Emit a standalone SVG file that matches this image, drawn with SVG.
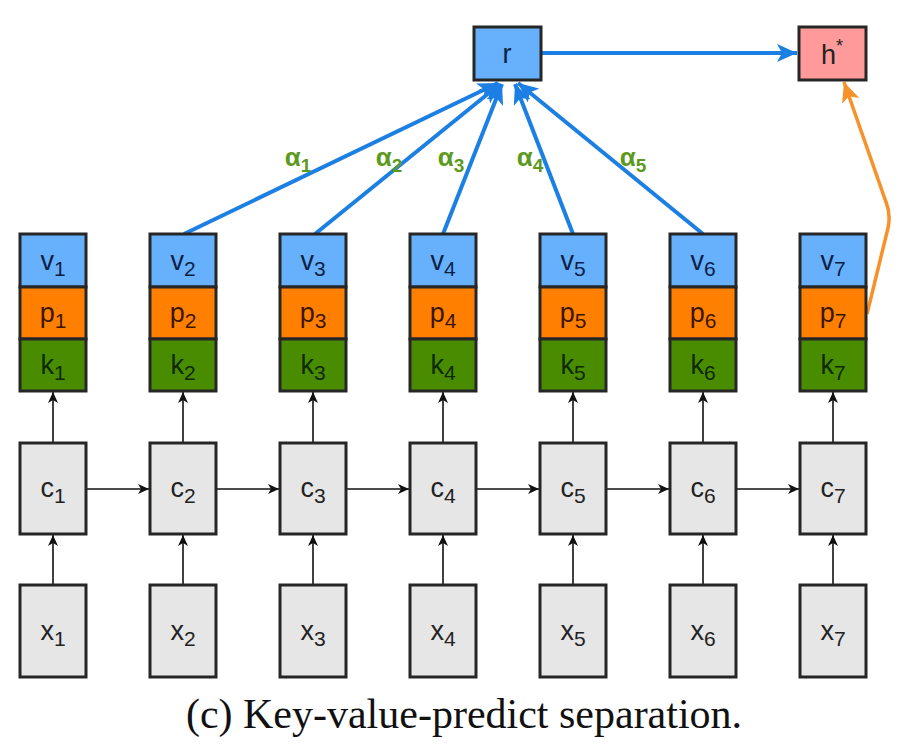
<svg xmlns="http://www.w3.org/2000/svg" width="900" height="752" viewBox="0 0 900 752">
<defs>
<style>
.box{stroke:#262626;stroke-width:3}
.v{fill:#66b0fc}.p{fill:#ff8000}.k{fill:#4a8c00}.g{fill:#e6e6e6}.h{fill:#ff9a9a}
text{font-family:"Liberation Sans",Arial,sans-serif;font-size:27px;text-anchor:middle}
.tv{fill:#0b1f45}.tp{fill:#3d1500}.tk{fill:#0d2a00}.tg{fill:#222}
.s{font-size:21px}
.al{fill:#5c9a1e;font-weight:bold;font-size:26px}
.as{font-size:19px}
.blue{stroke:#1b7fe3;stroke-width:4;fill:none;marker-end:url(#ab)}
.blk{stroke:#111;stroke-width:1.6;fill:none;marker-end:url(#ak)}
.org{stroke:#f7922a;stroke-width:3.5;fill:none;marker-end:url(#ao)}
.cap{font-family:"Liberation Serif","Times New Roman",serif;font-size:42px;fill:#111}
</style>
<marker id="ab" markerUnits="userSpaceOnUse" markerWidth="22" markerHeight="18" refX="20" refY="9" orient="auto"><path d="M0,0 L20,9 L0,18 L5,9 z" fill="#1b7fe3"/></marker>
<marker id="ao" markerUnits="userSpaceOnUse" markerWidth="22" markerHeight="18" refX="20" refY="9" orient="auto"><path d="M0,0 L20,9 L0,18 L5,9 z" fill="#f7922a"/></marker>
<marker id="ak" markerUnits="userSpaceOnUse" markerWidth="12" markerHeight="10" refX="11" refY="5" orient="auto"><path d="M0,0 L11,5 L0,10 L3,5 z" fill="#111"/></marker>
</defs>
<rect width="900" height="752" fill="#fff"/>

<g id="connectors">
<path class="blk" d="M53,585 V535"/><path class="blk" d="M183,585 V535"/><path class="blk" d="M313,585 V535"/><path class="blk" d="M443,585 V535"/><path class="blk" d="M573,585 V535"/><path class="blk" d="M703,585 V535"/><path class="blk" d="M833,585 V535"/>
<path class="blk" d="M53,443 V392"/><path class="blk" d="M183,443 V392"/><path class="blk" d="M313,443 V392"/><path class="blk" d="M443,443 V392"/><path class="blk" d="M573,443 V392"/><path class="blk" d="M703,443 V392"/><path class="blk" d="M833,443 V392"/>
<path class="blk" d="M86,489 H149"/><path class="blk" d="M216,489 H279"/><path class="blk" d="M346,489 H409"/><path class="blk" d="M476,489 H539"/><path class="blk" d="M606,489 H669"/><path class="blk" d="M736,489 H799"/>
<path class="blue" d="M184,234 L498,83"/>
<path class="blue" d="M315,234 L500,84"/>
<path class="blue" d="M443,234 L502,84"/>
<path class="blue" d="M573,234 L515,84"/>
<path class="blue" d="M703,234 L518,83"/>
<path class="blue" d="M541,53 L797,53"/>
<path class="org" d="M867,314 L888,228 Q891,214 886,202 L844,82"/>
<text class="al" x="298" y="166">α<tspan class="as" dy="6">1</tspan></text>
<text class="al" x="389" y="166">α<tspan class="as" dy="6">2</tspan></text>
<text class="al" x="451" y="166">α<tspan class="as" dy="6">3</tspan></text>
<text class="al" x="530" y="166">α<tspan class="as" dy="6">4</tspan></text>
<text class="al" x="633" y="166">α<tspan class="as" dy="6">5</tspan></text>
</g>

<g id="r"><rect class="box v" x="474" y="27" width="67" height="53"/><text class="tv" x="507" y="63">r</text></g>
<g id="hstar"><rect class="box h" x="799" y="27" width="67" height="53"/><text class="tg" x="832" y="64">h<tspan font-size="18" dy="-12">*</tspan></text></g>

<g id="col1"><rect class="box v" x="20" y="234" width="66" height="53"/><rect class="box p" x="20" y="287" width="66" height="52"/><rect class="box k" x="20" y="339" width="66" height="52"/>
<text class="tv" x="53" y="270">v<tspan class="s" dy="6">1</tspan></text><text class="tp" x="53" y="322">p<tspan class="s" dy="6">1</tspan></text><text class="tk" x="53" y="374">k<tspan class="s" dy="6">1</tspan></text></g>
<g id="col2"><rect class="box v" x="150" y="234" width="66" height="53"/><rect class="box p" x="150" y="287" width="66" height="52"/><rect class="box k" x="150" y="339" width="66" height="52"/>
<text class="tv" x="183" y="270">v<tspan class="s" dy="6">2</tspan></text><text class="tp" x="183" y="322">p<tspan class="s" dy="6">2</tspan></text><text class="tk" x="183" y="374">k<tspan class="s" dy="6">2</tspan></text></g>
<g id="col3"><rect class="box v" x="280" y="234" width="66" height="53"/><rect class="box p" x="280" y="287" width="66" height="52"/><rect class="box k" x="280" y="339" width="66" height="52"/>
<text class="tv" x="313" y="270">v<tspan class="s" dy="6">3</tspan></text><text class="tp" x="313" y="322">p<tspan class="s" dy="6">3</tspan></text><text class="tk" x="313" y="374">k<tspan class="s" dy="6">3</tspan></text></g>
<g id="col4"><rect class="box v" x="410" y="234" width="66" height="53"/><rect class="box p" x="410" y="287" width="66" height="52"/><rect class="box k" x="410" y="339" width="66" height="52"/>
<text class="tv" x="443" y="270">v<tspan class="s" dy="6">4</tspan></text><text class="tp" x="443" y="322">p<tspan class="s" dy="6">4</tspan></text><text class="tk" x="443" y="374">k<tspan class="s" dy="6">4</tspan></text></g>
<g id="col5"><rect class="box v" x="540" y="234" width="66" height="53"/><rect class="box p" x="540" y="287" width="66" height="52"/><rect class="box k" x="540" y="339" width="66" height="52"/>
<text class="tv" x="573" y="270">v<tspan class="s" dy="6">5</tspan></text><text class="tp" x="573" y="322">p<tspan class="s" dy="6">5</tspan></text><text class="tk" x="573" y="374">k<tspan class="s" dy="6">5</tspan></text></g>
<g id="col6"><rect class="box v" x="670" y="234" width="66" height="53"/><rect class="box p" x="670" y="287" width="66" height="52"/><rect class="box k" x="670" y="339" width="66" height="52"/>
<text class="tv" x="703" y="270">v<tspan class="s" dy="6">6</tspan></text><text class="tp" x="703" y="322">p<tspan class="s" dy="6">6</tspan></text><text class="tk" x="703" y="374">k<tspan class="s" dy="6">6</tspan></text></g>
<g id="col7"><rect class="box v" x="800" y="234" width="66" height="53"/><rect class="box p" x="800" y="287" width="66" height="52"/><rect class="box k" x="800" y="339" width="66" height="52"/>
<text class="tv" x="833" y="270">v<tspan class="s" dy="6">7</tspan></text><text class="tp" x="833" y="322">p<tspan class="s" dy="6">7</tspan></text><text class="tk" x="833" y="374">k<tspan class="s" dy="6">7</tspan></text></g>

<g id="c1"><rect class="box g" x="20" y="443" width="66" height="91"/><text class="tg" x="53" y="497">c<tspan class="s" dy="6">1</tspan></text></g>
<g id="c2"><rect class="box g" x="150" y="443" width="66" height="91"/><text class="tg" x="183" y="497">c<tspan class="s" dy="6">2</tspan></text></g>
<g id="c3"><rect class="box g" x="280" y="443" width="66" height="91"/><text class="tg" x="313" y="497">c<tspan class="s" dy="6">3</tspan></text></g>
<g id="c4"><rect class="box g" x="410" y="443" width="66" height="91"/><text class="tg" x="443" y="497">c<tspan class="s" dy="6">4</tspan></text></g>
<g id="c5"><rect class="box g" x="540" y="443" width="66" height="91"/><text class="tg" x="573" y="497">c<tspan class="s" dy="6">5</tspan></text></g>
<g id="c6"><rect class="box g" x="670" y="443" width="66" height="91"/><text class="tg" x="703" y="497">c<tspan class="s" dy="6">6</tspan></text></g>
<g id="c7"><rect class="box g" x="800" y="443" width="66" height="91"/><text class="tg" x="833" y="497">c<tspan class="s" dy="6">7</tspan></text></g>

<g id="x1"><rect class="box g" x="20" y="585" width="66" height="92"/><text class="tg" x="53" y="640">x<tspan class="s" dy="6">1</tspan></text></g>
<g id="x2"><rect class="box g" x="150" y="585" width="66" height="92"/><text class="tg" x="183" y="640">x<tspan class="s" dy="6">2</tspan></text></g>
<g id="x3"><rect class="box g" x="280" y="585" width="66" height="92"/><text class="tg" x="313" y="640">x<tspan class="s" dy="6">3</tspan></text></g>
<g id="x4"><rect class="box g" x="410" y="585" width="66" height="92"/><text class="tg" x="443" y="640">x<tspan class="s" dy="6">4</tspan></text></g>
<g id="x5"><rect class="box g" x="540" y="585" width="66" height="92"/><text class="tg" x="573" y="640">x<tspan class="s" dy="6">5</tspan></text></g>
<g id="x6"><rect class="box g" x="670" y="585" width="66" height="92"/><text class="tg" x="703" y="640">x<tspan class="s" dy="6">6</tspan></text></g>
<g id="x7"><rect class="box g" x="800" y="585" width="66" height="92"/><text class="tg" x="833" y="640">x<tspan class="s" dy="6">7</tspan></text></g>

<text class="cap" x="464" y="728">(c) Key-value-predict separation.</text>
</svg>
